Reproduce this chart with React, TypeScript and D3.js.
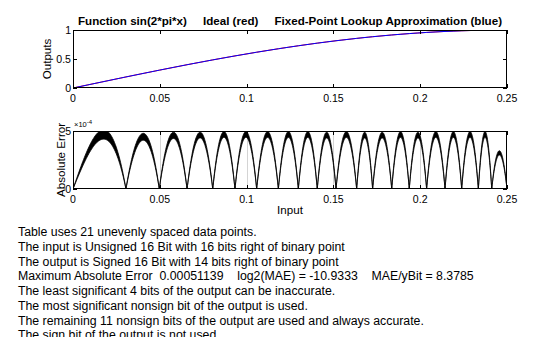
import React from 'react';
import * as d3 from 'd3';

// ---------- data ----------
const xTicks = [0, 0.05, 0.1, 0.15, 0.2, 0.25];
const xTickLabels = ['0', '0.05', '0.1', '0.15', '0.2', '0.25'];
const outTicks = [0, 0.5, 1];
const outTickLabels = ['0', '0.5', '1'];
const errTicks = [0, 5e-4];
const errTickLabels = ['0', '5'];

// lookup table breakpoints (21 unevenly spaced points) and their outputs
const tableInputs = [
  0, 0.0305, 0.0497, 0.0657, 0.0805, 0.0933, 0.1058, 0.1183, 0.1298, 0.1407,
  0.1515, 0.1634, 0.1726, 0.1836, 0.1937, 0.2037, 0.2143, 0.2239, 0.2335, 0.2412, 0.25,
];
const tableOutputs = [
  0, 0.19047, 0.30722, 0.40118, 0.48451, 0.55321, 0.61687, 0.67672, 0.72811, 0.77331,
  0.81452, 0.85558, 0.88406, 0.91423, 0.93808, 0.95798, 0.97495, 0.98658, 0.99463, 0.99847, 1,
];
// absolute error band per interval (upper / lower envelope at the lobe peak)
const errUpper = [
  5.11e-4, 4.8e-4, 4.9e-4, 4.9e-4, 4.95e-4, 4.95e-4, 4.95e-4, 4.95e-4, 4.95e-4, 4.9e-4,
  4.95e-4, 4.9e-4, 4.9e-4, 4.95e-4, 4.9e-4, 4.95e-4, 4.95e-4, 4.95e-4, 4.95e-4, 3.3e-4,
];
const errLower = [
  4.3e-4, 4.2e-4, 4.35e-4, 4.4e-4, 4.45e-4, 4.45e-4, 4.45e-4, 4.45e-4, 4.45e-4, 4.4e-4,
  4.45e-4, 4.4e-4, 4.4e-4, 4.45e-4, 4.4e-4, 4.45e-4, 4.45e-4, 4.45e-4, 4.45e-4, 2.93e-4,
];

const titleText = 'Function sin(2*pi*x)     Ideal (red)     Fixed-Point Lookup Approximation (blue)';
const infoLines = [
  'Table uses 21 unevenly spaced data points.',
  'The input is Unsigned 16 Bit with 16 bits right of binary point',
  'The output is Signed 16 Bit with 14 bits right of binary point',
  'Maximum Absolute Error  0.00051139    log2(MAE) = -10.9333    MAE/yBit = 8.3785',
  'The least significant 4 bits of the output can be inaccurate.',
  'The most significant nonsign bit of the output is used.',
  'The remaining 11 nonsign bits of the output are used and always accurate.',
  'The sign bit of the output is not used.',
];

// ---------- layout ----------
const W = 560;
const H = 337;
const LEFT = 73;
const RIGHT = 507;
const TOP1 = 30;
const BOT1 = 88;
const TOP2 = 131;
const BOT2 = 189;
const FONT = "'Liberation Sans', Arial, Helvetica, sans-serif";
const TICK_FS = 10.55;
const LABEL_FS = 11.6;
const TICK_LEN = 4;

function Axes({ x, y, yTicks, yLabels, top, bot, grid, children, clipId }: any) {
  const px = (v: number) => Math.round(v) + 0.5;
  return (
    <g>
      <defs>
        <clipPath id={clipId}>
          <rect x={LEFT} y={top} width={RIGHT - LEFT} height={bot - top} />
        </clipPath>
      </defs>
      {grid &&
        xTicks.slice(1, -1).map((t) => (
          <line key={'g' + t} x1={px(x(t))} x2={px(x(t))} y1={top} y2={bot} stroke="#d4d4d4" strokeWidth={1} />
        ))}
      <g clipPath={`url(#${clipId})`}>{children}</g>
      <rect x={LEFT + 0.5} y={top + 0.5} width={RIGHT - LEFT - 1} height={bot - top - 1} fill="none" stroke="#000" strokeWidth={1} shapeRendering="crispEdges" />
      {xTicks.map((t, i) => (
        <g key={'xt' + t}>
          <line x1={px(x(t))} x2={px(x(t))} y1={bot} y2={bot - TICK_LEN} stroke="#000" shapeRendering="crispEdges" />
          <line x1={px(x(t))} x2={px(x(t))} y1={top} y2={top + TICK_LEN} stroke="#000" shapeRendering="crispEdges" />
          <text x={x(t)} y={bot + 13.5} textAnchor="middle" fontSize={TICK_FS} fontFamily={FONT}>
            {xTickLabels[i]}
          </text>
        </g>
      ))}
      {yTicks.map((t: number, i: number) => (
        <g key={'yt' + t}>
          <line x1={LEFT} x2={LEFT + TICK_LEN} y1={px(y(t))} y2={px(y(t))} stroke="#000" shapeRendering="crispEdges" />
          <line x1={RIGHT} x2={RIGHT - TICK_LEN} y1={px(y(t))} y2={px(y(t))} stroke="#000" shapeRendering="crispEdges" />
          <text x={71} y={y(t)} dy="0.36em" textAnchor="end" fontSize={TICK_FS} fontFamily={FONT}>
            {yLabels[i]}
          </text>
        </g>
      ))}
    </g>
  );
}

export default function App() {
  const x = d3.scaleLinear().domain([0, 0.25]).range([LEFT, RIGHT]);
  const y1 = d3.scaleLinear().domain([0, 1]).range([BOT1, TOP1]);
  const y2 = d3.scaleLinear().domain([0, 5e-4]).range([BOT2, TOP2]);

  const pts: [number, number][] = tableInputs.map((v, i) => [v, tableOutputs[i]]);
  const idealLine = d3
    .line<[number, number]>()
    .x((d) => x(d[0]))
    .y((d) => y1(d[1]))
    .curve(d3.curveNatural)(pts) as string;
  const approxLine = d3
    .line<[number, number]>()
    .x((d) => x(d[0]))
    .y((d) => y1(d[1]))(pts) as string;

  // error lobes: shape derived from the table (curvature of the interval)
  const N = 60;
  const lobes = errUpper.map((u, k) => {
    const a = tableInputs[k];
    const b = tableInputs[k + 1];
    const ya = tableOutputs[k];
    const yb = tableOutputs[k + 1];
    const ts = d3.range(N + 1).map((i) => i / N);
    const raw = ts.map((t) => 3 * t * (1 - t) * ya + t * (1 - t) * (1 + t) * (yb - ya));
    const mx = d3.max(raw) || 1;
    return ts.map((t, i) => ({ x: a + (b - a) * t, s: raw[i] / mx, u, l: errLower[k] }));
  });
  const area = d3
    .area<any>()
    .x((d) => x(d.x))
    .y0((d) => y2(d.l * d.s))
    .y1((d) => y2(d.u * d.s));

  return (
    <div style={{ position: 'fixed', left: 0, top: 0 }}>
      <svg width={W} height={H} style={{ display: 'block', background: '#fff' }}>
        <rect width={W} height={H} fill="#fff" />
        <text x={(LEFT + RIGHT) / 2} y={25} textAnchor="middle" fontSize={LABEL_FS} fontWeight="bold" fontFamily={FONT} style={{ whiteSpace: 'pre' }}>
          {titleText}
        </text>
        <Axes x={x} y={y1} yTicks={outTicks} yLabels={outTickLabels} top={TOP1} bot={BOT1} grid={false} clipId="c1">
          <path d={idealLine} fill="none" stroke="#ff0000" strokeWidth={1} />
          <path d={approxLine} fill="none" stroke="#0000ff" strokeWidth={1} />
        </Axes>
        <text transform={`translate(51,${(TOP1 + BOT1) / 2}) rotate(-90)`} textAnchor="middle" fontSize={LABEL_FS} fontFamily={FONT}>
          Outputs
        </text>

        <Axes x={x} y={y2} yTicks={errTicks} yLabels={errTickLabels} top={TOP2} bot={BOT2} grid={true} clipId="c2">
          {lobes.map((lb, k) => (
            <path key={k} d={area(lb) as string} fill="#000" stroke="#000" strokeWidth={0.8} strokeLinejoin="round" />
          ))}
        </Axes>
        <text x={74} y={127} fontSize={7.5} fontFamily={FONT}>
          ×10<tspan fontSize={6} dy={-3}>-4</tspan>
        </text>
        <text transform={`translate(65,${(TOP2 + BOT2) / 2}) rotate(-90)`} textAnchor="middle" fontSize={LABEL_FS} fontFamily={FONT}>
          Absolute Error
        </text>
        <text x={(LEFT + RIGHT) / 2} y={213.5} textAnchor="middle" fontSize={LABEL_FS} fontFamily={FONT}>
          Input
        </text>

        {infoLines.map((s, i) => (
          <text key={i} x={18} y={236 + 14.75 * i} fontSize={12.3} fontFamily={FONT} style={{ whiteSpace: 'pre' }}>
            {s}
          </text>
        ))}
      </svg>
    </div>
  );
}
